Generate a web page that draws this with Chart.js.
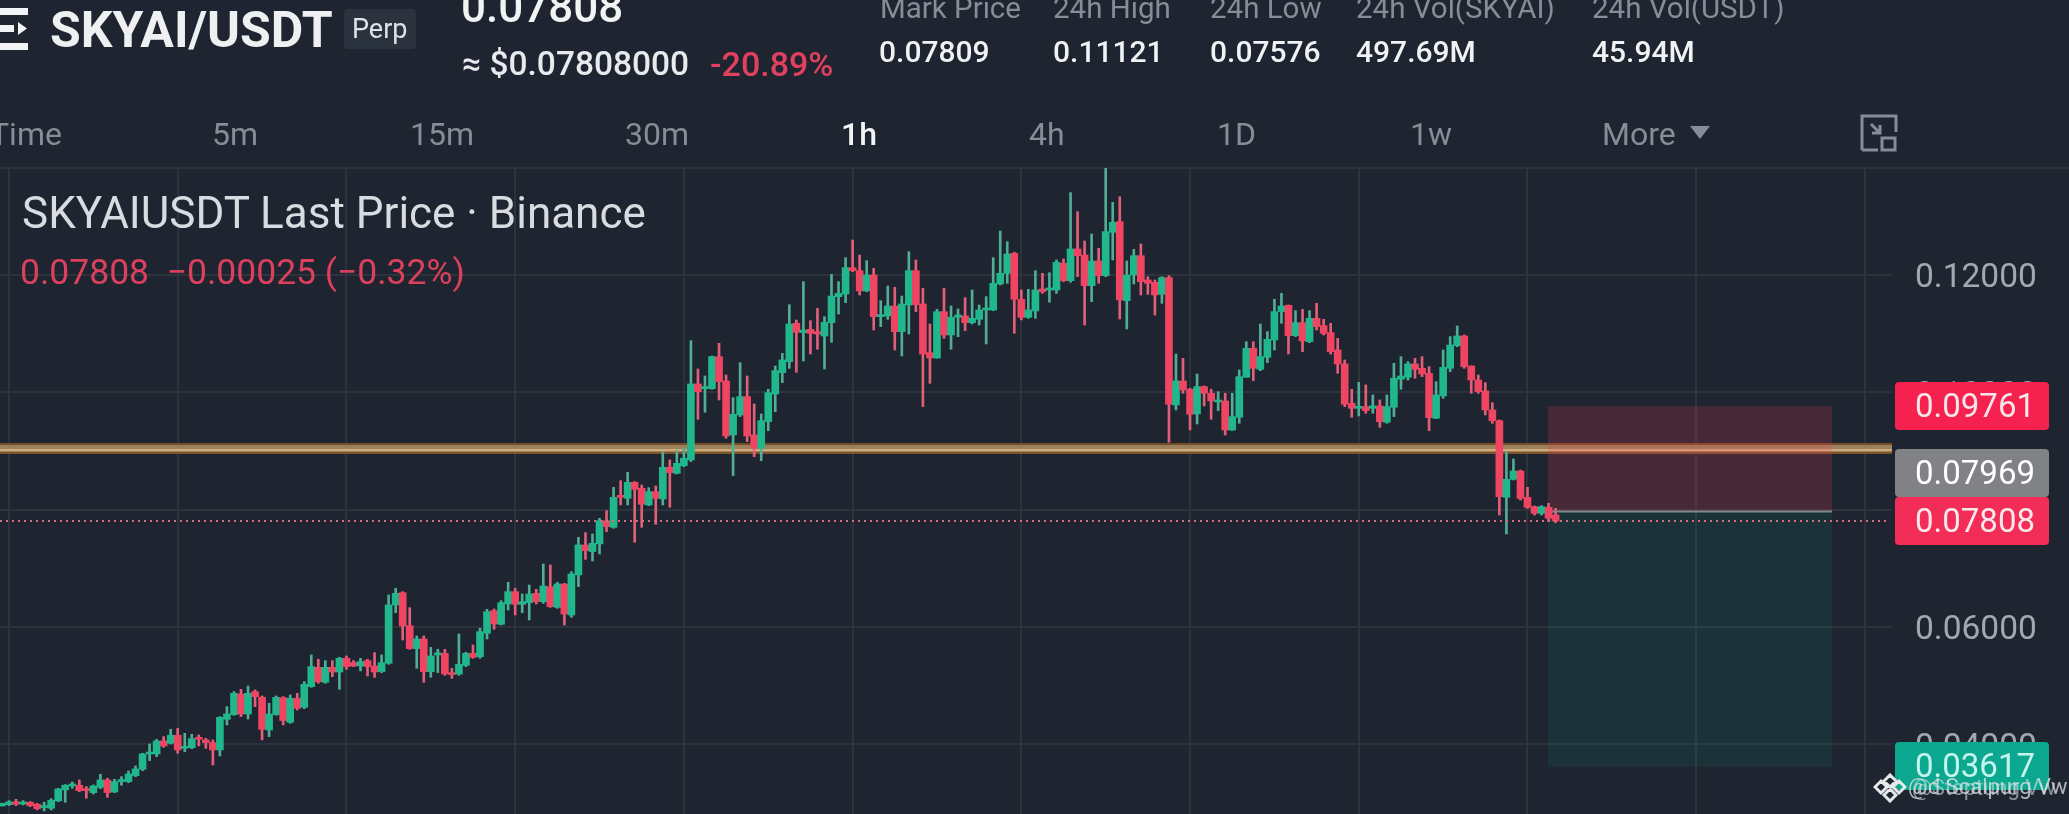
<!DOCTYPE html>
<html>
<head>
<meta charset="utf-8">
<script src="https://cdn.jsdelivr.net/npm/chart.js@4"></script>
<style>
html,body{margin:0;padding:0;background:#1e2530;width:2069px;height:814px;overflow:hidden;font-family:Roboto,sans-serif}
#c{position:absolute;left:0;top:0}
.t{position:absolute;white-space:pre;line-height:1;color:#fff}
.lab{color:#868d98;font-size:29.5px}
.val{color:#f0f2f4;font-size:30px;font-weight:500}
.tab{color:#868d98;font-size:32px;top:118px}
</style>
</head>
<body>
<canvas id="c" width="2069" height="814"></canvas>

<svg class="t" style="left:0;top:6px" width="30" height="48" viewBox="0 0 30 48">
<rect x="0" y="2" width="28" height="7" fill="#f2f3f5"/><rect x="0" y="37" width="28" height="7" fill="#f2f3f5"/>
<rect x="0" y="19" width="14" height="7" fill="#f2f3f5"/><path d="M18 16 L27 22.5 L18 29 Z" fill="#f2f3f5"/>
</svg>
<div class="t" style="left:50px;top:5px;font-size:50px;font-weight:700;color:#eef0f2">SKYAI/USDT</div>
<div style="position:absolute;left:344px;top:9px;width:72px;height:40px;background:#2a323d;border-radius:4px"></div>
<div class="t" style="left:352px;top:16px;font-size:27px;color:#dfe2e6">Perp</div>
<div class="t" style="left:461px;top:-15px;font-size:44px;font-weight:500;color:#f2f3f5">0.07808</div>
<div class="t" style="left:462px;top:47px;font-size:33.5px;font-weight:500;color:#e8eaed">≈ $0.07808000</div>
<div class="t" style="left:710px;top:47px;font-size:34px;font-weight:500;color:#e2405f">-20.89%</div>

<div class="t lab" style="left:880px;top:-6px">Mark Price</div>
<div class="t val" style="left:879px;top:37px">0.07809</div>
<div class="t lab" style="left:1053px;top:-6px">24h High</div>
<div class="t val" style="left:1053px;top:37px">0.11121</div>
<div class="t lab" style="left:1210px;top:-6px">24h Low</div>
<div class="t val" style="left:1210px;top:37px">0.07576</div>
<div class="t lab" style="left:1356px;top:-6px">24h Vol(SKYAI)</div>
<div class="t val" style="left:1356px;top:37px">497.69M</div>
<div class="t lab" style="left:1592px;top:-6px">24h Vol(USDT)</div>
<div class="t val" style="left:1592px;top:37px">45.94M</div>

<div class="t tab" style="left:-10px">Time</div>
<div class="t tab" style="left:212px">5m</div>
<div class="t tab" style="left:410px">15m</div>
<div class="t tab" style="left:625px">30m</div>
<div class="t tab" style="left:841px;color:#f2f3f5;font-weight:500">1h</div>
<div class="t tab" style="left:1029px">4h</div>
<div class="t tab" style="left:1217px">1D</div>
<div class="t tab" style="left:1410px">1w</div>
<div class="t tab" style="left:1602px">More</div>
<svg class="t" style="left:1690px;top:126px" width="20" height="13"><path d="M0 0 H20 L10 13 Z" fill="#868d98"/></svg>
<svg class="t" style="left:1860px;top:114px" width="38" height="38" fill="none" stroke="#868d98" stroke-width="3">
<path d="M2 36 V2 H36 V18"/><path d="M2 36 H18"/><path d="M11 10 L20 19 M20 11 V19 H12"/><rect x="22" y="24" width="13" height="12"/></svg>

<div class="t" style="left:22px;top:191px;font-size:44px;color:#d8dbdf">SKYAIUSDT Last Price · Binance</div>
<div class="t" style="left:20px;top:255px;font-size:35.5px;color:#dc405c">0.07808  −0.00025 (−0.32%)</div>

<svg class="t" style="left:1873px;top:773px" width="34" height="30" viewBox="0 0 34 30" fill="none" stroke="#e6e8ea" stroke-width="3">
<path d="M17 2 L23 8 L17 14 L11 8 Z M8 8 L14 14 L8 20 L2 14 Z M26 8 L32 14 L26 20 L20 14 Z M17 16 L23 22 L17 28 L11 22 Z"/></svg>
<div class="t" style="left:1908px;top:776px;font-size:22px;color:rgba(225,228,232,.75)">@d Scalpurg Vw</div>
<div class="t" style="left:1912px;top:777px;font-size:22px;color:rgba(225,228,232,.55)">@Steptung Vw</div>

<script>
const opens = [.02950,.02973,.03019,.02984,.03013,.02979,.02922,.02911,.03036,.03223,.03291,.03303,.03234,.03178,.03268,.03393,.03189,.03365,.03365,.03467,
.03575,.03836,.03836,.04058,.04018,.04155,.03933,.03944,.04109,.04075,.04030,.03905,.04427,.04507,.04859,.04518,.04899,.04802,.04245,.04507,
.04797,.04376,.04785,.04632,.04984,.05313,.05058,.05313,.05234,.05467,.05393,.05336,.05427,.05336,.05240,.05382,.06376,.06586,.06023,.05632,
.05796,.05240,.05524,.05552,.05211,.05200,.05348,.05552,.05495,.05893,.06279,.06046,.06393,.06603,.06387,.06415,.06574,.06432,.06688,.06336,
.06733,.06205,.06887,.07399,.07285,.07416,.07813,.07700,.08239,.08194,.08466,.08364,.08080,.08307,.08183,.08723,.08620,.08751,.08848,.10143,
.10063,.10063,.10608,.10194,.09274,.09614,.09927,.09274,.09046,.09501,.09972,.10336,.10523,.11176,.11018,.11074,.11035,.10961,.11188,.11631,
.11676,.12125,.12074,.11728,.12000,.11290,.11302,.11472,.11035,.11489,.12074,.11506,.10677,.10586,.11375,.10978,.11279,.11302,.11188,.11245,
.11404,.11404,.11847,.12029,.12370,.11586,.11279,.11387,.11762,.11745,.11745,.12199,.11904,.12444,.12341,.11819,.12239,.11989,.12728,.12909,
.11563,.12001,.12330,.11915,.11876,.11671,.11955,.09785,.10194,.10052,.09632,.10098,.09984,.09836,.09853,.09359,.09575,.10257,.10751,.10393,
.10597,.10893,.11376,.11484,.10967,.11188,.10864,.11262,.11137,.11018,.10722,.10484,.09814,.09728,.09757,.09728,.09768,.09490,.09746,.10223,
.10257,.10484,.10410,.10325,.09558,.09939,.10410,.10796,.10961,.10450,.10211,.10024,.09700,.09518,.08210,.08517,.08659,.08210,.08051,.07938,.08040,.07909];
const closes = [.02996,.03019,.02979,.03013,.02956,.02905,.02950,.03047,.03240,.03303,.03314,.03212,.03212,.03291,.03393,.03178,.03365,.03393,.03496,.03581,
.03836,.03859,.04058,.03973,.04155,.03905,.03961,.04098,.04086,.04030,.03905,.04461,.04518,.04870,.04518,.04870,.04813,.04257,.04518,.04802,
.04405,.04785,.04615,.05024,.05325,.05069,.05313,.05234,.05467,.05325,.05336,.05410,.05325,.05234,.05393,.06376,.06574,.06018,.05632,.05796,
.05240,.05507,.05552,.05200,.05189,.05365,.05552,.05484,.05921,.06262,.06052,.06415,.06603,.06387,.06432,.06563,.06432,.06699,.06347,.06733,
.06222,.06904,.07399,.07302,.07427,.07813,.07711,.08211,.08211,.08466,.08347,.08092,.08307,.08194,.08723,.08632,.08791,.08876,.10143,.10012,
.10086,.10608,.10182,.09257,.09626,.09927,.09257,.09046,.09518,.09995,.10370,.10552,.11165,.11023,.11063,.11006,.10995,.11194,.11642,.11688,
.12125,.12074,.11728,.12000,.11290,.11319,.11472,.11035,.11506,.12074,.11495,.10654,.10586,.11375,.10978,.11279,.11319,.11188,.11262,.11404,
.11432,.11858,.12029,.12358,.11586,.11279,.11404,.11745,.11717,.11773,.12216,.11904,.12444,.12330,.11819,.12239,.11989,.12739,.12898,.11575,
.12001,.12330,.11887,.11859,.11660,.11955,.09797,.10194,.10041,.09626,.10098,.09984,.09853,.09870,.09359,.09586,.10268,.10751,.10410,.10609,
.10904,.11376,.11472,.10967,.11188,.10876,.11262,.11120,.11006,.10694,.10484,.09797,.09728,.09757,.09689,.09768,.09501,.09757,.10240,.10279,
.10484,.10393,.10313,.09569,.09956,.10427,.10808,.10961,.10438,.10211,.10012,.09700,.09518,.08222,.08517,.08659,.08193,.08040,.07938,.08051,.07853,.07808];
const highs = [.02996,.03041,.03064,.03041,.03024,.02996,.03013,.03075,.03251,.03314,.03359,.03393,.03280,.03308,.03490,.03422,.03405,.03450,.03547,.03632,
.03848,.04007,.04086,.04132,.04257,.04274,.04189,.04172,.04160,.04103,.04075,.04473,.04643,.04899,.04938,.04995,.04927,.04825,.04700,.04825,
.04814,.04842,.04870,.05069,.05524,.05450,.05427,.05427,.05484,.05507,.05427,.05467,.05450,.05563,.05524,.06546,.06660,.06603,.06330,.05847,
.05847,.05654,.05620,.05620,.05296,.05881,.05569,.05694,.05978,.06302,.06307,.06449,.06762,.06660,.06563,.06716,.06643,.07074,.07057,.06762,
.06745,.06944,.07529,.07609,.07586,.07853,.07984,.08381,.08495,.08637,.08478,.08421,.08376,.08404,.08990,.08848,.09007,.09046,.10881,.10398,
.10279,.10620,.10836,.10296,.09910,.10506,.10279,.09802,.09631,.10052,.10449,.10665,.11494,.11233,.11887,.11222,.11432,.11290,.12012,.11887,
.12296,.12597,.12341,.12244,.12114,.11563,.11813,.11790,.11642,.12398,.12256,.11773,.11165,.11415,.11773,.11472,.11421,.11614,.11745,.11489,
.11631,.12296,.12750,.12569,.12387,.11745,.11756,.12074,.12029,.12040,.12256,.12273,.13404,.13080,.12580,.12699,.12455,.13847,.13239,.13335,
.12239,.12438,.12529,.11972,.11915,.11972,.11989,.10654,.10580,.10069,.10313,.10109,.10052,.10012,.09984,.09984,.10382,.10864,.10864,.11165,
.11035,.11586,.11688,.11489,.11393,.11415,.11393,.11518,.11245,.11177,.10921,.10552,.10052,.10171,.10126,.09956,.09870,.09956,.10495,.10609,
.10524,.10580,.10609,.10438,.10183,.10722,.10950,.11131,.10978,.10450,.10296,.10166,.09825,.09530,.08989,.08864,.08676,.08381,.08063,.08068,.08108,.08023];
const lows = [.02950,.02956,.02956,.02967,.02939,.02882,.02865,.02882,.03024,.03013,.03251,.03195,.03081,.03155,.03246,.03098,.03178,.03303,.03348,.03450,
.03552,.03723,.03791,.03950,.04007,.03848,.03876,.03927,.03973,.03933,.03649,.03802,.04331,.04495,.04473,.04433,.04643,.04075,.04132,.04495,
.04331,.04359,.04586,.04609,.04973,.05041,.05041,.05154,.04939,.05279,.05325,.05251,.05166,.05143,.05223,.05365,.06245,.05779,.05620,.05296,
.05058,.05143,.05223,.05177,.05126,.05177,.05325,.05467,.05467,.05796,.05961,.06035,.06290,.06205,.06245,.06120,.06393,.06404,.06336,.06319,
.06035,.06165,.06689,.07154,.07126,.07245,.07626,.07683,.08080,.08080,.07444,.07700,.08069,.07751,.08081,.08041,.08609,.08734,.08819,.09541,
.09660,.10052,.09870,.09217,.08581,.09586,.09160,.08904,.08836,.09347,.09671,.10165,.10410,.10341,.10535,.10654,.10734,.10398,.10853,.11336,
.11529,.12057,.11659,.11716,.11063,.11120,.11245,.10722,.10620,.10995,.11375,.09757,.10154,.10580,.10921,.10734,.10949,.11052,.11165,.11148,
.10824,.11392,.11830,.11859,.11007,.11234,.11262,.11262,.11688,.11535,.11688,.11887,.11876,.11972,.11149,.11546,.11859,.11972,.12256,.11251,
.11080,.11847,.11660,.11671,.11319,.11518,.09149,.09700,.09984,.09359,.09461,.09768,.09541,.09689,.09274,.09348,.09473,.10257,.10200,.10370,
.10507,.10722,.11177,.10654,.10950,.10694,.10847,.11063,.10978,.10654,.10325,.09757,.09575,.09598,.09643,.09643,.09405,.09473,.09586,.10052,
.10211,.10240,.10268,.09348,.09552,.09899,.10353,.10779,.10410,.09984,.09984,.09615,.09473,.07909,.07586,.08506,.08165,.08023,.07909,.07909,.07796,.07779];

const priceTicks = [0.04, 0.06, 0.08, 0.10, 0.12];
const dayGridIndices = [1, 25, 49, 73, 97, 121, 145, 169, 193, 217, 241, 265];
const lastPrice = 0.07808;
const stopPrice = 0.09761;
const entryPrice = 0.07969;
const targetPrice = 0.03617;
const bandTop = 0.09117;
const bandBottom = 0.08966;
const positionStart = 219.9;
const positionEnd = 260.3;

const GREEN = '#20b78c', RED = '#ef4563', GREEN_W = '#4fae94', RED_W = '#e0607a';
const isUp = i => closes[i] >= opens[i];

const overlay = {
  id: 'overlay',
  beforeDatasetsDraw(chart) {
    const {ctx, chartArea: a, scales: {x, y}} = chart;
    ctx.save();
    ctx.fillStyle = '#2c333d';
    ctx.fillRect(0, a.top - 1, chart.width, 2);
    const bt = y.getPixelForValue(bandTop), bb = y.getPixelForValue(bandBottom);
    ctx.fillStyle = '#9c835f';
    ctx.fillRect(a.left, bt, a.width, bb - bt);
    ctx.fillStyle = '#7d5226';
    ctx.fillRect(a.left, bt - 1, a.width, 2);
    ctx.fillRect(a.left, bb - 1, a.width, 2);
    ctx.fillStyle = '#d2ac7c';
    ctx.fillRect(a.left, bb - 4, a.width, 2);
    const x0 = x.getPixelForValue(positionStart), x1 = x.getPixelForValue(positionEnd);
    const ys = y.getPixelForValue(stopPrice), ye = y.getPixelForValue(entryPrice), yt = y.getPixelForValue(targetPrice);
    ctx.fillStyle = 'rgba(240,60,85,0.2)';
    ctx.fillRect(x0, ys, x1 - x0, ye - ys);
    ctx.fillStyle = 'rgba(20,165,140,0.11)';
    ctx.fillRect(x0, ye, x1 - x0, yt - ye);
    ctx.fillStyle = '#7f8a8c';
    ctx.fillRect(x0, ye - 1, x1 - x0, 2);
    ctx.restore();
  },
  afterDraw(chart) {
    const {ctx, chartArea: a, scales: {y}} = chart;
    ctx.save();
    const yl = y.getPixelForValue(lastPrice);
    ctx.strokeStyle = '#d56c82';
    ctx.lineWidth = 2;
    ctx.setLineDash([2, 4]);
    ctx.beginPath(); ctx.moveTo(a.left, yl); ctx.lineTo(a.right - 2, yl); ctx.stroke();
    ctx.setLineDash([]);
    const tags = [
      ['#f5214e', '#f6e6ea', stopPrice.toFixed(5), 406],
      ['#808285', '#ffffff', entryPrice.toFixed(5), 473],
      ['#f22d58', '#f8e8ec', lastPrice.toFixed(5), 521],
      ['#0ca78f', '#c4f4ee', targetPrice.toFixed(5), 766]
    ];
    ctx.font = '33px Roboto';
    ctx.textAlign = 'left';
    ctx.textBaseline = 'middle';
    for (const [bg, fg, txt, cy] of tags) {
      ctx.fillStyle = bg;
      ctx.beginPath();
      ctx.roundRect(1895, cy - 24, 154, 48, 4);
      ctx.fill();
      ctx.fillStyle = fg;
      ctx.fillText(txt, 1915, cy + 3);
    }
    ctx.restore();
  }
};

new Chart(document.getElementById('c'), {
  type: 'bar',
  plugins: [overlay],
  data: {
    datasets: [
      {
        label: 'wick', order: 2, barThickness: 2,
        data: opens.map((_, i) => ({x: i, y: [lows[i], highs[i]]})),
        backgroundColor: opens.map((_, i) => isUp(i) ? GREEN_W : RED_W)
      },
      {
        label: 'body', order: 1, barThickness: 7, minBarLength: 2,
        data: opens.map((_, i) => ({x: i, y: [opens[i], closes[i]]})),
        backgroundColor: opens.map((_, i) => isUp(i) ? GREEN : RED)
      }
    ]
  },
  options: {
    responsive: false,
    animation: false,
    devicePixelRatio: 1,
    grouped: false,
    layout: {autoPadding: false, padding: {top: 168, left: 0, right: 0, bottom: 0}},
    plugins: {legend: {display: false}, tooltip: {enabled: false}},
    scales: {
      x: {
        type: 'linear', offset: false, min: -0.28, max: 268.85,
        afterBuildTicks: s => { s.ticks = dayGridIndices.map(v => ({value: v})); },
        afterFit: s => { s.height = 0; s.paddingLeft = s.paddingRight = s.paddingTop = s.paddingBottom = 0; },
        ticks: {display: false, autoSkip: false},
        border: {display: false},
        grid: {color: '#2c333d', lineWidth: 2, drawTicks: false, offset: false}
      },
      y: {
        position: 'right', min: 0.02813, max: 0.13824,
        afterBuildTicks: s => { s.ticks = priceTicks.map(v => ({value: v})); },
        afterFit: s => { s.width = 177; s.paddingLeft = s.paddingRight = s.paddingTop = s.paddingBottom = 0; },
        border: {display: false},
        grid: {color: '#2c333d', lineWidth: 2, drawTicks: false, offset: false},
        ticks: {
          color: '#a3a8b0', padding: 23, align: 'center', autoSkip: false,
          font: {family: 'Roboto', size: 33.5, lineHeight: '8px'},
          callback: v => ['', v.toFixed(5)]
        }
      }
    }
  }
});
</script>
</body>
</html>
